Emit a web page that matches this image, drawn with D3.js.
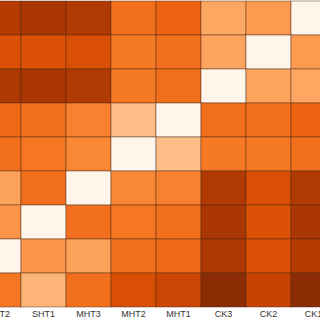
<!DOCTYPE html>
<html>
<meta charset="utf-8">
<head>
<style>
body { margin: 0; background: #fff; }
.tick text { font-family: "Liberation Sans", Arial, sans-serif; font-size: 9px; fill: #333; }
</style>
</head>
<body>
<script src="https://d3js.org/d3.v7.min.js"></script>
<script>

// column order (left to right) and row order (top to bottom)
var cols = ["SHT3", "SHT2", "SHT1", "MHT3", "MHT2", "MHT1", "CK3", "CK2", "CK1"];
var rows = ["CK1", "CK2", "CK3", "MHT1", "MHT2", "MHT3", "SHT1", "SHT2", "SHT3"];

// dissimilarity values, one row per entry of rows, in cols order
var ck1  = [0.96, 0.84, 0.87, 0.85, 0.60, 0.65, 0.40, 0.45, 0.00];
var ck2  = [0.79, 0.72, 0.72, 0.73, 0.57, 0.60, 0.41, 0.00, 0.45];
var ck3  = [0.96, 0.86, 0.87, 0.85, 0.57, 0.61, 0.00, 0.41, 0.40];
var mht1 = [0.78, 0.63, 0.60, 0.54, 0.31, 0.00, 0.61, 0.60, 0.65];
var mht2 = [0.73, 0.60, 0.58, 0.52, 0.00, 0.31, 0.57, 0.57, 0.60];
var mht3 = [0.60, 0.42, 0.60, 0.00, 0.52, 0.54, 0.85, 0.73, 0.85];
var sht1 = [0.35, 0.47, 0.00, 0.60, 0.58, 0.60, 0.87, 0.72, 0.87];
var sht2 = [0.58, 0.00, 0.47, 0.42, 0.60, 0.63, 0.86, 0.72, 0.84];
var sht3 = [0.00, 0.58, 0.35, 0.60, 0.73, 0.78, 0.96, 0.79, 0.96];
var values = [ck1, ck2, ck3, mht1, mht2, mht3, sht1, sht2, sht3];

var width = 320, height = 320;

var svg = d3.select("body").append("svg")
    .attr("width", width)
    .attr("height", height);

// chart is cropped: left column and row labels fall outside the view
var x = d3.scaleBand().domain(cols).range([-69, 336]);
var y = d3.scaleBand().domain(rows).range([1, 307]);
var color = d3.scaleSequential(d3.interpolateOranges).domain([0, 1]);

var cells = [];
rows.forEach(function(r, i) {
  cols.forEach(function(c, j) {
    cells.push({row: r, col: c, v: values[i][j]});
  });
});

svg.append("g").selectAll("rect")
  .data(cells).enter()
  .append("rect")
    .attr("x", function(d) { return x(d.col); })
    .attr("y", function(d) { return y(d.row); })
    .attr("width", x.bandwidth())
    .attr("height", y.bandwidth())
    .style("fill", function(d) { return color(d.v); })
    .style("stroke", "rgba(70,40,20,0.55)")
    .style("stroke-width", 0.8);

// column labels
svg.append("g")
    .attr("transform", "translate(0,307)")
    .call(d3.axisBottom(x).tickSize(0).tickPadding(4))
    .call(function(g) { g.select(".domain").remove(); });

</script>
</body>
</html>
